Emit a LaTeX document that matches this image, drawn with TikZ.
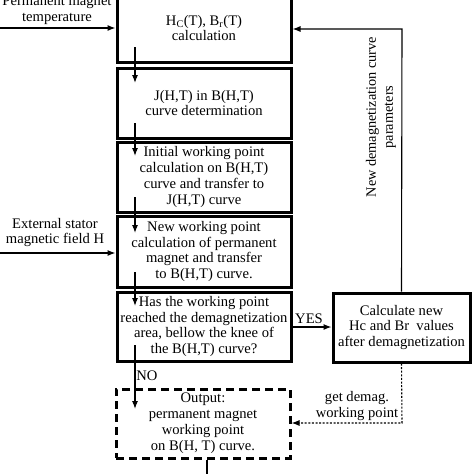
\documentclass[tikz,border=0pt]{standalone}
\usepackage{fontspec}
\setmainfont{Liberation Serif}
\usetikzlibrary{arrows.meta,calc}
\begin{document}
\begin{tikzpicture}[x=1pt,y=-1pt,
  every node/.style={font=\fontsize{14.6}{15.9}\selectfont},
  box/.style={draw,line width=3pt,minimum width=174pt,inner sep=0pt,align=center},
  dbox/.style={draw,line width=3pt,dash pattern=on 8pt off 5pt,minimum width=174pt,inner sep=0pt,align=center},
  rbox/.style={draw,line width=3pt,minimum width=137pt,minimum height=69pt,inner sep=0pt,align=center},
  arr/.style={line width=1.1pt,-{Latex[length=8pt,width=6pt]}},
  darr/.style={line width=1.1pt,dash pattern=on 2pt off 1.6pt,-{Latex[length=8pt,width=6pt]}},
  lbl/.style={inner sep=0pt,align=center}]
\useasboundingbox (0,0) rectangle (474,474);
\node[box,minimum height=68pt] (b1) at (204,28) {H\textsubscript{C}(T), B\textsubscript{r}(T)\\calculation};
\node[box,minimum height=70pt] (b2) at (204,103) {J(H,T) in B(H,T)\\curve determination};
\node[box,minimum height=70pt] (b3) at (204,177) {Initial working point\\calculation on B(H,T)\\curve and transfer to\\J(H,T) curve};
\node[box,minimum height=71pt] (b4) at (204,251.5) {New working point\\calculation of permanent\\magnet and transfer\\to B(H,T) curve.};
\node[box,minimum height=69pt] (b5) at (204,326.5) {Has the working point\\reached the demagnetization\\area, bellow the knee of\\the B(H,T) curve?};
\node[dbox,minimum height=69pt] (b6) at (203,423.5) {Output:\\permanent magnet\\working point\\on B(H, T) curve.};
\node[rbox] (r) at (401.5,327.5) {Calculate new\\Hc and Br\ \ values\\after demagnetization};
% input labels
\node[lbl] (t1) at (57,10) {Permanent magnet\\temperature};
\coordinate (i1) at (0,28);
\draw[arr] (i1) -- (i1 -| b1.west);
\node[lbl] (t2) at (55,232.5) {External stator\\magnetic field H};
\coordinate (i2) at (0,253);
\draw[arr] (i2) -- (i2 -| b4.west);
% internal arrows
\coordinate (a1s) at (135,47); \coordinate (a1e) at (135,83);
\coordinate (a2s) at (135,123); \coordinate (a2e) at (135,156);
\coordinate (a3s) at (135,197); \coordinate (a3e) at (135,233);
\coordinate (a4s) at (135,272); \coordinate (a4e) at (135,306);
\coordinate (a5s) at (135,345); \coordinate (a5e) at (135,409);
\draw[arr] (a1s) -- (a1e);
\draw[arr] (a2s) -- (a2e);
\draw[arr] (a3s) -- (a3e);
\draw[arr] (a4s) -- (a4e);
\draw[arr] (a5s) -- (a5e);
\node[lbl] (no) at (147,376) {NO};
% YES
\coordinate (y1) at (0,327);
\draw[arr] (y1 -| b5.east) -- (y1 -| r.west);
\node[lbl] (yes) at (309,319) {YES};
% feedback
\coordinate (fb) at (402,29);
\draw[arr] (r.north) -- (fb) -- (fb -| b1.east);
\node[lbl,rotate=90,font=\fontsize{14.3}{17}\selectfont] (fbt) at (381,117) {New demagnetization curve\\parameters};
% dotted
\coordinate (dt) at (402,423);
\draw[darr] (r.south) -- (dt) -- (dt -| b6.east);
\node[lbl] (gd) at (357,406) {get demag.\\working point};
% bottom
\coordinate (bt) at (207,474);
\draw[line width=1.1pt] (b6.south -| bt) -- (bt);
\end{tikzpicture}
\end{document}
